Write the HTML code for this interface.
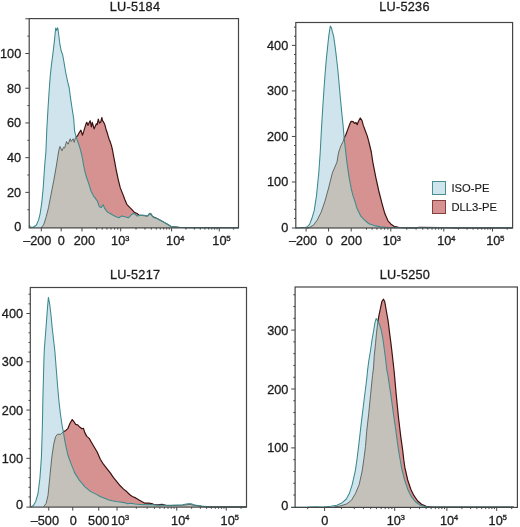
<!DOCTYPE html>
<html><head><meta charset="utf-8"><title>Flow cytometry histograms</title>
<style>
html,body{margin:0;padding:0;background:#fff;}
body{width:520px;height:527px;overflow:hidden;font-family:"Liberation Sans",sans-serif;}
svg text{font-family:"Liberation Sans",sans-serif;fill:#1c1c1c;stroke:#1c1c1c;stroke-width:0.3px;}
.t{font-size:12.7px;}
.ti{font-size:12.7px;letter-spacing:0.25px;}
.lg{font-size:11.2px;stroke-width:0.15px;}
</style></head><body>
<svg width="520" height="527" viewBox="0 0 520 527" style="display:block">
<rect width="520" height="527" fill="#fff"/>
<defs><clipPath id="cb1"><path d="M29.20,227.90 L29.20,224.96 L30.30,227.27 L33.30,227.27 L36.40,224.96 L38.60,219.90 L40.10,213.80 L41.70,203.10 L43.20,188.00 L44.70,165.20 L45.90,152.00 L46.80,129.40 L48.20,105.20 L49.20,90.00 L50.20,76.50 L51.50,64.40 L52.90,53.60 L54.20,42.90 L55.70,28.00 L56.60,30.40 L57.60,27.70 L58.10,30.00 L58.70,34.80 L59.90,44.20 L61.20,51.00 L62.70,55.00 L63.90,61.70 L65.70,72.50 L67.70,81.90 L69.20,88.00 L70.40,97.10 L72.00,107.90 L73.70,118.60 L74.60,131.20 L76.20,137.30 L78.10,142.70 L80.00,148.10 L81.50,154.20 L82.70,159.60 L83.50,165.00 L84.90,171.30 L86.50,177.30 L88.70,183.40 L91.00,191.00 L93.30,195.60 L95.60,198.60 L97.40,201.30 L99.40,206.70 L101.40,207.40 L103.20,204.70 L104.80,208.70 L107.50,212.10 L110.20,213.50 L113.60,215.50 L116.20,216.80 L118.90,217.80 L121.60,215.90 L125.00,216.80 L128.40,217.80 L131.00,215.10 L133.10,213.50 L135.10,214.10 L137.10,216.10 L139.80,215.50 L142.50,215.10 L145.20,215.50 L147.20,216.10 L149.90,213.20 L151.20,213.70 L152.60,216.40 L153.80,217.50 L156.90,218.40 L160.40,220.23 L163.80,222.10 L167.30,223.97 L170.80,226.28 L174.20,226.72 L179.40,227.38 L184.60,227.60 L238.50,227.60 L238.50,227.90 Z"/></clipPath><clipPath id="co1"><path clip-rule="evenodd" d="M0,0H520V527H0Z M29.20,227.90 L29.20,224.96 L30.30,227.27 L33.30,227.27 L36.40,224.96 L38.60,219.90 L40.10,213.80 L41.70,203.10 L43.20,188.00 L44.70,165.20 L45.90,152.00 L46.80,129.40 L48.20,105.20 L49.20,90.00 L50.20,76.50 L51.50,64.40 L52.90,53.60 L54.20,42.90 L55.70,28.00 L56.60,30.40 L57.60,27.70 L58.10,30.00 L58.70,34.80 L59.90,44.20 L61.20,51.00 L62.70,55.00 L63.90,61.70 L65.70,72.50 L67.70,81.90 L69.20,88.00 L70.40,97.10 L72.00,107.90 L73.70,118.60 L74.60,131.20 L76.20,137.30 L78.10,142.70 L80.00,148.10 L81.50,154.20 L82.70,159.60 L83.50,165.00 L84.90,171.30 L86.50,177.30 L88.70,183.40 L91.00,191.00 L93.30,195.60 L95.60,198.60 L97.40,201.30 L99.40,206.70 L101.40,207.40 L103.20,204.70 L104.80,208.70 L107.50,212.10 L110.20,213.50 L113.60,215.50 L116.20,216.80 L118.90,217.80 L121.60,215.90 L125.00,216.80 L128.40,217.80 L131.00,215.10 L133.10,213.50 L135.10,214.10 L137.10,216.10 L139.80,215.50 L142.50,215.10 L145.20,215.50 L147.20,216.10 L149.90,213.20 L151.20,213.70 L152.60,216.40 L153.80,217.50 L156.90,218.40 L160.40,220.23 L163.80,222.10 L167.30,223.97 L170.80,226.28 L174.20,226.72 L179.40,227.38 L184.60,227.60 L238.50,227.60 L238.50,227.90 Z"/></clipPath><clipPath id="cb2"><path d="M295.80,228.00 L295.80,227.85 L297.50,227.85 L304.40,227.63 L307.40,226.73 L309.70,224.16 L311.90,218.30 L314.20,210.70 L316.50,195.60 L318.80,172.80 L320.20,152.50 L321.50,128.10 L322.90,105.20 L324.10,87.50 L324.90,76.50 L326.20,60.40 L327.60,46.90 L328.90,34.80 L330.30,26.10 L331.60,28.10 L332.30,31.40 L333.60,36.20 L335.00,45.60 L336.30,56.30 L337.70,68.50 L339.00,82.50 L340.40,98.50 L341.70,111.90 L343.10,125.40 L344.10,137.50 L345.20,147.50 L346.90,162.10 L349.10,177.30 L351.40,189.50 L353.00,195.60 L354.50,200.10 L356.80,207.70 L358.50,211.50 L360.60,215.80 L363.60,219.12 L366.00,221.25 L369.00,223.82 L374.30,225.61 L380.40,226.73 L388.00,227.40 L395.60,227.74 L512.60,227.85 L512.60,228.00 Z"/></clipPath><clipPath id="co2"><path clip-rule="evenodd" d="M0,0H520V527H0Z M295.80,228.00 L295.80,227.85 L297.50,227.85 L304.40,227.63 L307.40,226.73 L309.70,224.16 L311.90,218.30 L314.20,210.70 L316.50,195.60 L318.80,172.80 L320.20,152.50 L321.50,128.10 L322.90,105.20 L324.10,87.50 L324.90,76.50 L326.20,60.40 L327.60,46.90 L328.90,34.80 L330.30,26.10 L331.60,28.10 L332.30,31.40 L333.60,36.20 L335.00,45.60 L336.30,56.30 L337.70,68.50 L339.00,82.50 L340.40,98.50 L341.70,111.90 L343.10,125.40 L344.10,137.50 L345.20,147.50 L346.90,162.10 L349.10,177.30 L351.40,189.50 L353.00,195.60 L354.50,200.10 L356.80,207.70 L358.50,211.50 L360.60,215.80 L363.60,219.12 L366.00,221.25 L369.00,223.82 L374.30,225.61 L380.40,226.73 L388.00,227.40 L395.60,227.74 L512.60,227.85 L512.60,228.00 Z"/></clipPath><clipPath id="cb3"><path d="M30.90,507.10 L30.90,507.00 L33.40,505.58 L35.70,501.40 L38.00,493.50 L39.90,478.30 L41.40,457.40 L42.30,429.00 L42.60,415.00 L42.80,402.10 L43.50,375.20 L44.00,357.00 L44.40,347.90 L45.40,335.80 L46.60,319.60 L47.50,307.50 L48.40,297.40 L49.60,303.50 L50.90,314.20 L52.20,327.70 L53.70,341.10 L54.90,351.50 L56.20,368.50 L57.60,386.00 L58.90,400.80 L60.30,412.90 L61.30,420.00 L62.20,426.00 L63.20,430.90 L65.10,442.30 L68.00,455.50 L70.80,463.10 L74.60,472.60 L79.30,480.20 L85.00,486.80 L90.70,491.60 L96.40,494.40 L100.00,496.50 L104.00,498.10 L108.10,499.75 L112.10,500.85 L116.20,501.51 L120.20,501.95 L124.20,502.61 L127.60,503.82 L131.00,503.16 L135.00,504.04 L140.40,504.48 L145.80,504.81 L151.10,504.48 L156.50,505.25 L163.30,505.25 L170.40,505.25 L182.50,504.81 L187.70,503.71 L191.10,503.71 L194.60,505.03 L201.50,506.13 L208.40,506.79 L246.50,506.90 L246.50,507.10 Z"/></clipPath><clipPath id="co3"><path clip-rule="evenodd" d="M0,0H520V527H0Z M30.90,507.10 L30.90,507.00 L33.40,505.58 L35.70,501.40 L38.00,493.50 L39.90,478.30 L41.40,457.40 L42.30,429.00 L42.60,415.00 L42.80,402.10 L43.50,375.20 L44.00,357.00 L44.40,347.90 L45.40,335.80 L46.60,319.60 L47.50,307.50 L48.40,297.40 L49.60,303.50 L50.90,314.20 L52.20,327.70 L53.70,341.10 L54.90,351.50 L56.20,368.50 L57.60,386.00 L58.90,400.80 L60.30,412.90 L61.30,420.00 L62.20,426.00 L63.20,430.90 L65.10,442.30 L68.00,455.50 L70.80,463.10 L74.60,472.60 L79.30,480.20 L85.00,486.80 L90.70,491.60 L96.40,494.40 L100.00,496.50 L104.00,498.10 L108.10,499.75 L112.10,500.85 L116.20,501.51 L120.20,501.95 L124.20,502.61 L127.60,503.82 L131.00,503.16 L135.00,504.04 L140.40,504.48 L145.80,504.81 L151.10,504.48 L156.50,505.25 L163.30,505.25 L170.40,505.25 L182.50,504.81 L187.70,503.71 L191.10,503.71 L194.60,505.03 L201.50,506.13 L208.40,506.79 L246.50,506.90 L246.50,507.10 Z"/></clipPath><clipPath id="cb4"><path d="M291.00,507.40 L291.00,507.25 L295.00,507.15 L300.00,507.15 L307.70,507.04 L315.40,506.71 L323.10,506.93 L330.80,506.28 L336.90,505.18 L342.20,502.67 L346.10,499.27 L349.20,493.80 L352.20,484.60 L355.30,470.80 L356.90,460.00 L358.80,444.60 L361.00,425.40 L363.80,402.30 L366.70,379.20 L367.60,370.00 L368.80,360.80 L370.40,351.50 L371.90,340.80 L373.50,331.50 L375.00,322.30 L376.20,318.50 L377.60,320.80 L379.60,324.60 L381.20,330.00 L382.70,337.70 L384.20,348.50 L385.50,358.50 L386.80,370.00 L387.90,375.40 L390.80,394.60 L393.70,415.80 L396.20,433.10 L397.20,441.00 L398.50,450.00 L400.20,460.00 L401.50,467.70 L404.60,480.00 L407.70,489.20 L411.50,496.90 L415.40,501.79 L420.00,505.18 L426.20,506.71 L435.00,507.04 L513.75,507.04 L513.75,507.40 Z"/></clipPath><clipPath id="co4"><path clip-rule="evenodd" d="M0,0H520V527H0Z M291.00,507.40 L291.00,507.25 L295.00,507.15 L300.00,507.15 L307.70,507.04 L315.40,506.71 L323.10,506.93 L330.80,506.28 L336.90,505.18 L342.20,502.67 L346.10,499.27 L349.20,493.80 L352.20,484.60 L355.30,470.80 L356.90,460.00 L358.80,444.60 L361.00,425.40 L363.80,402.30 L366.70,379.20 L367.60,370.00 L368.80,360.80 L370.40,351.50 L371.90,340.80 L373.50,331.50 L375.00,322.30 L376.20,318.50 L377.60,320.80 L379.60,324.60 L381.20,330.00 L382.70,337.70 L384.20,348.50 L385.50,358.50 L386.80,370.00 L387.90,375.40 L390.80,394.60 L393.70,415.80 L396.20,433.10 L397.20,441.00 L398.50,450.00 L400.20,460.00 L401.50,467.70 L404.60,480.00 L407.70,489.20 L411.50,496.90 L415.40,501.79 L420.00,505.18 L426.20,506.71 L435.00,507.04 L513.75,507.04 L513.75,507.40 Z"/></clipPath></defs>
<g><path d="M40.90,227.90 L40.90,227.60 L42.40,226.61 L43.90,224.08 L46.20,216.80 L48.50,207.70 L50.80,195.60 L53.80,180.40 L56.50,165.00 L57.70,157.30 L58.80,150.40 L60.00,146.50 L61.90,150.80 L63.50,147.30 L64.60,148.10 L66.50,141.50 L68.10,144.20 L70.20,138.80 L71.20,141.50 L73.10,138.80 L74.20,142.30 L75.40,137.70 L76.50,136.50 L77.40,136.00 L79.00,133.00 L80.90,130.20 L82.40,135.20 L83.70,131.40 L86.00,123.80 L86.80,122.30 L87.90,125.40 L89.50,121.90 L90.20,120.80 L91.40,126.90 L92.30,122.30 L94.10,128.80 L95.60,125.40 L96.40,123.80 L97.20,124.60 L98.30,119.20 L99.50,123.10 L100.60,122.30 L101.90,117.50 L102.50,120.80 L103.30,121.50 L104.80,124.60 L106.00,129.20 L107.50,133.80 L109.10,139.20 L109.80,140.80 L111.40,145.40 L112.50,150.00 L113.60,156.10 L114.90,162.90 L116.20,170.00 L118.30,179.80 L120.30,187.90 L123.00,194.60 L125.00,200.00 L127.00,204.70 L129.70,207.40 L132.40,210.10 L134.40,212.40 L137.10,213.50 L139.10,215.10 L142.50,215.50 L145.20,215.90 L147.20,216.40 L149.90,214.00 L152.60,216.60 L156.90,218.60 L163.80,222.32 L170.80,226.50 L179.40,227.49 L238.50,227.60 L238.50,227.90 Z" fill="#d69290"/><path d="M29.20,227.90 L29.20,224.96 L30.30,227.27 L33.30,227.27 L36.40,224.96 L38.60,219.90 L40.10,213.80 L41.70,203.10 L43.20,188.00 L44.70,165.20 L45.90,152.00 L46.80,129.40 L48.20,105.20 L49.20,90.00 L50.20,76.50 L51.50,64.40 L52.90,53.60 L54.20,42.90 L55.70,28.00 L56.60,30.40 L57.60,27.70 L58.10,30.00 L58.70,34.80 L59.90,44.20 L61.20,51.00 L62.70,55.00 L63.90,61.70 L65.70,72.50 L67.70,81.90 L69.20,88.00 L70.40,97.10 L72.00,107.90 L73.70,118.60 L74.60,131.20 L76.20,137.30 L78.10,142.70 L80.00,148.10 L81.50,154.20 L82.70,159.60 L83.50,165.00 L84.90,171.30 L86.50,177.30 L88.70,183.40 L91.00,191.00 L93.30,195.60 L95.60,198.60 L97.40,201.30 L99.40,206.70 L101.40,207.40 L103.20,204.70 L104.80,208.70 L107.50,212.10 L110.20,213.50 L113.60,215.50 L116.20,216.80 L118.90,217.80 L121.60,215.90 L125.00,216.80 L128.40,217.80 L131.00,215.10 L133.10,213.50 L135.10,214.10 L137.10,216.10 L139.80,215.50 L142.50,215.10 L145.20,215.50 L147.20,216.10 L149.90,213.20 L151.20,213.70 L152.60,216.40 L153.80,217.50 L156.90,218.40 L160.40,220.23 L163.80,222.10 L167.30,223.97 L170.80,226.28 L174.20,226.72 L179.40,227.38 L184.60,227.60 L238.50,227.60 L238.50,227.90 Z" fill="#cfe4ec"/><g clip-path="url(#cb1)"><path d="M40.90,227.90 L40.90,227.60 L42.40,226.61 L43.90,224.08 L46.20,216.80 L48.50,207.70 L50.80,195.60 L53.80,180.40 L56.50,165.00 L57.70,157.30 L58.80,150.40 L60.00,146.50 L61.90,150.80 L63.50,147.30 L64.60,148.10 L66.50,141.50 L68.10,144.20 L70.20,138.80 L71.20,141.50 L73.10,138.80 L74.20,142.30 L75.40,137.70 L76.50,136.50 L77.40,136.00 L79.00,133.00 L80.90,130.20 L82.40,135.20 L83.70,131.40 L86.00,123.80 L86.80,122.30 L87.90,125.40 L89.50,121.90 L90.20,120.80 L91.40,126.90 L92.30,122.30 L94.10,128.80 L95.60,125.40 L96.40,123.80 L97.20,124.60 L98.30,119.20 L99.50,123.10 L100.60,122.30 L101.90,117.50 L102.50,120.80 L103.30,121.50 L104.80,124.60 L106.00,129.20 L107.50,133.80 L109.10,139.20 L109.80,140.80 L111.40,145.40 L112.50,150.00 L113.60,156.10 L114.90,162.90 L116.20,170.00 L118.30,179.80 L120.30,187.90 L123.00,194.60 L125.00,200.00 L127.00,204.70 L129.70,207.40 L132.40,210.10 L134.40,212.40 L137.10,213.50 L139.10,215.10 L142.50,215.50 L145.20,215.90 L147.20,216.40 L149.90,214.00 L152.60,216.60 L156.90,218.60 L163.80,222.32 L170.80,226.50 L179.40,227.49 L238.50,227.60 L238.50,227.90 Z" fill="#c4c1ba"/><path d="M40.90,227.60 L42.40,226.61 L43.90,224.08 L46.20,216.80 L48.50,207.70 L50.80,195.60 L53.80,180.40 L56.50,165.00 L57.70,157.30 L58.80,150.40 L60.00,146.50 L61.90,150.80 L63.50,147.30 L64.60,148.10 L66.50,141.50 L68.10,144.20 L70.20,138.80 L71.20,141.50 L73.10,138.80 L74.20,142.30 L75.40,137.70 L76.50,136.50 L77.40,136.00 L79.00,133.00 L80.90,130.20 L82.40,135.20 L83.70,131.40 L86.00,123.80 L86.80,122.30 L87.90,125.40 L89.50,121.90 L90.20,120.80 L91.40,126.90 L92.30,122.30 L94.10,128.80 L95.60,125.40 L96.40,123.80 L97.20,124.60 L98.30,119.20 L99.50,123.10 L100.60,122.30 L101.90,117.50 L102.50,120.80 L103.30,121.50 L104.80,124.60 L106.00,129.20 L107.50,133.80 L109.10,139.20 L109.80,140.80 L111.40,145.40 L112.50,150.00 L113.60,156.10 L114.90,162.90 L116.20,170.00 L118.30,179.80 L120.30,187.90 L123.00,194.60 L125.00,200.00 L127.00,204.70 L129.70,207.40 L132.40,210.10 L134.40,212.40 L137.10,213.50 L139.10,215.10 L142.50,215.50 L145.20,215.90 L147.20,216.40 L149.90,214.00 L152.60,216.60 L156.90,218.60 L163.80,222.32 L170.80,226.50 L179.40,227.49 L238.50,227.60" fill="none" stroke="#575d59" stroke-width="0.9" stroke-linejoin="round"/></g><g clip-path="url(#co1)"><path d="M40.90,227.60 L42.40,226.61 L43.90,224.08 L46.20,216.80 L48.50,207.70 L50.80,195.60 L53.80,180.40 L56.50,165.00 L57.70,157.30 L58.80,150.40 L60.00,146.50 L61.90,150.80 L63.50,147.30 L64.60,148.10 L66.50,141.50 L68.10,144.20 L70.20,138.80 L71.20,141.50 L73.10,138.80 L74.20,142.30 L75.40,137.70 L76.50,136.50 L77.40,136.00 L79.00,133.00 L80.90,130.20 L82.40,135.20 L83.70,131.40 L86.00,123.80 L86.80,122.30 L87.90,125.40 L89.50,121.90 L90.20,120.80 L91.40,126.90 L92.30,122.30 L94.10,128.80 L95.60,125.40 L96.40,123.80 L97.20,124.60 L98.30,119.20 L99.50,123.10 L100.60,122.30 L101.90,117.50 L102.50,120.80 L103.30,121.50 L104.80,124.60 L106.00,129.20 L107.50,133.80 L109.10,139.20 L109.80,140.80 L111.40,145.40 L112.50,150.00 L113.60,156.10 L114.90,162.90 L116.20,170.00 L118.30,179.80 L120.30,187.90 L123.00,194.60 L125.00,200.00 L127.00,204.70 L129.70,207.40 L132.40,210.10 L134.40,212.40 L137.10,213.50 L139.10,215.10 L142.50,215.50 L145.20,215.90 L147.20,216.40 L149.90,214.00 L152.60,216.60 L156.90,218.60 L163.80,222.32 L170.80,226.50 L179.40,227.49 L238.50,227.60" fill="none" stroke="#3c1212" stroke-width="1.2" stroke-linejoin="round"/></g><path d="M29.20,224.96 L30.30,227.27 L33.30,227.27 L36.40,224.96 L38.60,219.90 L40.10,213.80 L41.70,203.10 L43.20,188.00 L44.70,165.20 L45.90,152.00 L46.80,129.40 L48.20,105.20 L49.20,90.00 L50.20,76.50 L51.50,64.40 L52.90,53.60 L54.20,42.90 L55.70,28.00 L56.60,30.40 L57.60,27.70 L58.10,30.00 L58.70,34.80 L59.90,44.20 L61.20,51.00 L62.70,55.00 L63.90,61.70 L65.70,72.50 L67.70,81.90 L69.20,88.00 L70.40,97.10 L72.00,107.90 L73.70,118.60 L74.60,131.20 L76.20,137.30 L78.10,142.70 L80.00,148.10 L81.50,154.20 L82.70,159.60 L83.50,165.00 L84.90,171.30 L86.50,177.30 L88.70,183.40 L91.00,191.00 L93.30,195.60 L95.60,198.60 L97.40,201.30 L99.40,206.70 L101.40,207.40 L103.20,204.70 L104.80,208.70 L107.50,212.10 L110.20,213.50 L113.60,215.50 L116.20,216.80 L118.90,217.80 L121.60,215.90 L125.00,216.80 L128.40,217.80 L131.00,215.10 L133.10,213.50 L135.10,214.10 L137.10,216.10 L139.80,215.50 L142.50,215.10 L145.20,215.50 L147.20,216.10 L149.90,213.20 L151.20,213.70 L152.60,216.40 L153.80,217.50 L156.90,218.40 L160.40,220.23 L163.80,222.10 L167.30,223.97 L170.80,226.28 L174.20,226.72 L179.40,227.38 L184.60,227.60 L238.50,227.60" fill="none" stroke="#3a898c" stroke-width="1.05" stroke-linejoin="round"/></g>
<rect x="29.20" y="18.60" width="209.30" height="209.30" fill="none" stroke="#454545" stroke-width="1.2"/>
<path d="M29.20,209.74 h-1.8 M29.20,192.38 h-3.9 M29.20,175.02 h-1.8 M29.20,157.66 h-3.9 M29.20,140.30 h-1.8 M29.20,122.94 h-3.9 M29.20,105.58 h-1.8 M29.20,88.22 h-3.9 M29.20,70.86 h-1.8 M29.20,53.50 h-3.9 M29.20,36.14 h-1.8 M29.20,18.78 h-3.9 M41.30,227.90 v3.5 M61.20,227.90 v3.5 M82.00,227.90 v3.5 M120.70,227.90 v3.5 M171.60,227.90 v3.5 M219.25,227.90 v3.5 M96.68,227.90 v1.7 M102.21,227.90 v1.7 M106.92,227.90 v1.7 M111.00,227.90 v1.7 M114.60,227.90 v1.7 M117.81,227.90 v1.7 M136.02,227.90 v1.7 M144.99,227.90 v1.7 M151.34,227.90 v1.7 M156.28,227.90 v1.7 M160.31,227.90 v1.7 M163.72,227.90 v1.7 M166.67,227.90 v1.7 M169.27,227.90 v1.7 M185.94,227.90 v1.7 M194.33,227.90 v1.7 M200.29,227.90 v1.7 M204.91,227.90 v1.7 M208.68,227.90 v1.7 M211.87,227.90 v1.7 M214.63,227.90 v1.7 M217.07,227.90 v1.7 M233.59,227.90 v1.7" stroke="#454545" stroke-width="1" fill="none"/>
<text x="21.20" y="231.20" text-anchor="end" class="t">0</text>
<text x="21.20" y="196.88" text-anchor="end" class="t">20</text>
<text x="21.20" y="162.16" text-anchor="end" class="t">40</text>
<text x="21.20" y="127.44" text-anchor="end" class="t">60</text>
<text x="21.20" y="92.72" text-anchor="end" class="t">80</text>
<text x="21.20" y="58.00" text-anchor="end" class="t">100</text>
<text x="37.25" y="244.70" text-anchor="middle" class="t">–200</text>
<text x="61.30" y="244.70" text-anchor="middle" class="t">0</text>
<text x="84.40" y="244.70" text-anchor="middle" class="t">200</text>
<text x="111.10" y="244.70" class="t">10<tspan dy="-4.1" dx="-0.35" font-size="8.0">3</tspan></text>
<text x="166.10" y="244.70" class="t">10<tspan dy="-4.1" dx="-0.35" font-size="8.0">4</tspan></text>
<text x="212.35" y="244.70" class="t">10<tspan dy="-4.1" dx="-0.35" font-size="8.0">5</tspan></text>
<text x="135.00" y="10.70" text-anchor="middle" class="ti">LU-5184</text>
<g><path d="M306.60,228.00 L306.60,227.85 L309.70,227.29 L313.50,225.05 L317.30,219.91 L321.10,212.30 L324.80,201.60 L328.60,188.00 L332.40,172.80 L337.00,162.10 L338.10,155.00 L339.00,151.00 L341.00,145.60 L343.10,141.50 L344.10,138.20 L345.80,134.80 L347.80,129.40 L349.80,124.00 L351.10,121.30 L353.20,121.60 L354.50,123.40 L355.90,122.40 L357.20,124.70 L358.50,121.30 L360.30,118.00 L361.90,120.30 L363.30,125.40 L365.30,130.80 L367.30,136.10 L368.60,140.90 L370.00,146.50 L371.30,152.00 L372.80,162.10 L375.80,177.30 L378.80,191.00 L381.90,203.10 L384.90,213.80 L388.00,220.80 L391.00,224.16 L394.00,226.28 L398.60,227.29 L404.70,227.63 L413.80,227.85 L420.00,227.40 L440.00,227.51 L455.00,227.85 L512.60,227.85 L512.60,228.00 Z" fill="#d69290"/><path d="M295.80,228.00 L295.80,227.85 L297.50,227.85 L304.40,227.63 L307.40,226.73 L309.70,224.16 L311.90,218.30 L314.20,210.70 L316.50,195.60 L318.80,172.80 L320.20,152.50 L321.50,128.10 L322.90,105.20 L324.10,87.50 L324.90,76.50 L326.20,60.40 L327.60,46.90 L328.90,34.80 L330.30,26.10 L331.60,28.10 L332.30,31.40 L333.60,36.20 L335.00,45.60 L336.30,56.30 L337.70,68.50 L339.00,82.50 L340.40,98.50 L341.70,111.90 L343.10,125.40 L344.10,137.50 L345.20,147.50 L346.90,162.10 L349.10,177.30 L351.40,189.50 L353.00,195.60 L354.50,200.10 L356.80,207.70 L358.50,211.50 L360.60,215.80 L363.60,219.12 L366.00,221.25 L369.00,223.82 L374.30,225.61 L380.40,226.73 L388.00,227.40 L395.60,227.74 L512.60,227.85 L512.60,228.00 Z" fill="#cfe4ec"/><g clip-path="url(#cb2)"><path d="M306.60,228.00 L306.60,227.85 L309.70,227.29 L313.50,225.05 L317.30,219.91 L321.10,212.30 L324.80,201.60 L328.60,188.00 L332.40,172.80 L337.00,162.10 L338.10,155.00 L339.00,151.00 L341.00,145.60 L343.10,141.50 L344.10,138.20 L345.80,134.80 L347.80,129.40 L349.80,124.00 L351.10,121.30 L353.20,121.60 L354.50,123.40 L355.90,122.40 L357.20,124.70 L358.50,121.30 L360.30,118.00 L361.90,120.30 L363.30,125.40 L365.30,130.80 L367.30,136.10 L368.60,140.90 L370.00,146.50 L371.30,152.00 L372.80,162.10 L375.80,177.30 L378.80,191.00 L381.90,203.10 L384.90,213.80 L388.00,220.80 L391.00,224.16 L394.00,226.28 L398.60,227.29 L404.70,227.63 L413.80,227.85 L420.00,227.40 L440.00,227.51 L455.00,227.85 L512.60,227.85 L512.60,228.00 Z" fill="#c4c1ba"/><path d="M306.60,227.85 L309.70,227.29 L313.50,225.05 L317.30,219.91 L321.10,212.30 L324.80,201.60 L328.60,188.00 L332.40,172.80 L337.00,162.10 L338.10,155.00 L339.00,151.00 L341.00,145.60 L343.10,141.50 L344.10,138.20 L345.80,134.80 L347.80,129.40 L349.80,124.00 L351.10,121.30 L353.20,121.60 L354.50,123.40 L355.90,122.40 L357.20,124.70 L358.50,121.30 L360.30,118.00 L361.90,120.30 L363.30,125.40 L365.30,130.80 L367.30,136.10 L368.60,140.90 L370.00,146.50 L371.30,152.00 L372.80,162.10 L375.80,177.30 L378.80,191.00 L381.90,203.10 L384.90,213.80 L388.00,220.80 L391.00,224.16 L394.00,226.28 L398.60,227.29 L404.70,227.63 L413.80,227.85 L420.00,227.40 L440.00,227.51 L455.00,227.85 L512.60,227.85" fill="none" stroke="#575d59" stroke-width="0.9" stroke-linejoin="round"/></g><g clip-path="url(#co2)"><path d="M306.60,227.85 L309.70,227.29 L313.50,225.05 L317.30,219.91 L321.10,212.30 L324.80,201.60 L328.60,188.00 L332.40,172.80 L337.00,162.10 L338.10,155.00 L339.00,151.00 L341.00,145.60 L343.10,141.50 L344.10,138.20 L345.80,134.80 L347.80,129.40 L349.80,124.00 L351.10,121.30 L353.20,121.60 L354.50,123.40 L355.90,122.40 L357.20,124.70 L358.50,121.30 L360.30,118.00 L361.90,120.30 L363.30,125.40 L365.30,130.80 L367.30,136.10 L368.60,140.90 L370.00,146.50 L371.30,152.00 L372.80,162.10 L375.80,177.30 L378.80,191.00 L381.90,203.10 L384.90,213.80 L388.00,220.80 L391.00,224.16 L394.00,226.28 L398.60,227.29 L404.70,227.63 L413.80,227.85 L420.00,227.40 L440.00,227.51 L455.00,227.85 L512.60,227.85" fill="none" stroke="#3c1212" stroke-width="1.2" stroke-linejoin="round"/></g><path d="M295.80,227.85 L297.50,227.85 L304.40,227.63 L307.40,226.73 L309.70,224.16 L311.90,218.30 L314.20,210.70 L316.50,195.60 L318.80,172.80 L320.20,152.50 L321.50,128.10 L322.90,105.20 L324.10,87.50 L324.90,76.50 L326.20,60.40 L327.60,46.90 L328.90,34.80 L330.30,26.10 L331.60,28.10 L332.30,31.40 L333.60,36.20 L335.00,45.60 L336.30,56.30 L337.70,68.50 L339.00,82.50 L340.40,98.50 L341.70,111.90 L343.10,125.40 L344.10,137.50 L345.20,147.50 L346.90,162.10 L349.10,177.30 L351.40,189.50 L353.00,195.60 L354.50,200.10 L356.80,207.70 L358.50,211.50 L360.60,215.80 L363.60,219.12 L366.00,221.25 L369.00,223.82 L374.30,225.61 L380.40,226.73 L388.00,227.40 L395.60,227.74 L512.60,227.85" fill="none" stroke="#3a898c" stroke-width="1.05" stroke-linejoin="round"/></g>
<rect x="295.80" y="22.50" width="216.80" height="205.50" fill="none" stroke="#454545" stroke-width="1.2"/>
<path d="M295.80,228.00 h-3.9 M295.80,218.39 h-1.8 M295.80,209.29 h-1.8 M295.80,200.18 h-1.8 M295.80,191.08 h-1.8 M295.80,181.97 h-3.9 M295.80,172.86 h-1.8 M295.80,163.76 h-1.8 M295.80,154.65 h-1.8 M295.80,145.55 h-1.8 M295.80,136.44 h-3.9 M295.80,127.33 h-1.8 M295.80,118.23 h-1.8 M295.80,109.12 h-1.8 M295.80,100.02 h-1.8 M295.80,90.91 h-3.9 M295.80,81.80 h-1.8 M295.80,72.70 h-1.8 M295.80,63.59 h-1.8 M295.80,54.49 h-1.8 M295.80,45.38 h-3.9 M295.80,36.27 h-1.8 M295.80,27.17 h-1.8 M306.10,228.00 v3.5 M328.60,228.00 v3.5 M351.20,228.00 v3.5 M390.80,228.00 v3.5 M443.80,228.00 v3.5 M492.50,228.00 v3.5 M366.49,228.00 v1.7 M372.13,228.00 v1.7 M376.91,228.00 v1.7 M381.04,228.00 v1.7 M384.66,228.00 v1.7 M387.89,228.00 v1.7 M406.75,228.00 v1.7 M416.09,228.00 v1.7 M422.71,228.00 v1.7 M427.85,228.00 v1.7 M432.04,228.00 v1.7 M435.59,228.00 v1.7 M438.66,228.00 v1.7 M441.37,228.00 v1.7 M458.46,228.00 v1.7 M467.04,228.00 v1.7 M473.12,228.00 v1.7 M477.84,228.00 v1.7 M481.70,228.00 v1.7 M484.96,228.00 v1.7 M487.78,228.00 v1.7 M490.27,228.00 v1.7 M507.16,228.00 v1.7" stroke="#454545" stroke-width="1" fill="none"/>
<text x="288.20" y="231.60" text-anchor="end" class="t">0</text>
<text x="288.20" y="186.47" text-anchor="end" class="t">100</text>
<text x="288.20" y="140.94" text-anchor="end" class="t">200</text>
<text x="288.20" y="95.41" text-anchor="end" class="t">300</text>
<text x="288.20" y="49.88" text-anchor="end" class="t">400</text>
<text x="303.05" y="244.70" text-anchor="middle" class="t">–200</text>
<text x="329.35" y="244.70" text-anchor="middle" class="t">0</text>
<text x="351.40" y="244.70" text-anchor="middle" class="t">200</text>
<text x="382.70" y="244.70" class="t">10<tspan dy="-4.1" dx="-0.35" font-size="8.0">3</tspan></text>
<text x="437.30" y="244.70" class="t">10<tspan dy="-4.1" dx="-0.35" font-size="8.0">4</tspan></text>
<text x="486.30" y="244.70" class="t">10<tspan dy="-4.1" dx="-0.35" font-size="8.0">5</tspan></text>
<text x="404.50" y="10.70" text-anchor="middle" class="ti">LU-5236</text>
<g><path d="M43.70,507.10 L43.70,506.57 L46.10,503.49 L48.00,495.40 L49.90,476.40 L51.80,457.40 L53.70,444.20 L55.60,436.60 L57.50,434.30 L60.40,434.30 L62.30,432.80 L63.20,431.60 L65.60,430.70 L68.00,428.30 L69.90,423.50 L72.20,419.60 L73.80,421.50 L75.70,424.40 L77.60,424.90 L80.00,427.30 L82.00,428.80 L83.40,428.30 L84.80,432.60 L86.80,436.40 L89.20,438.40 L91.10,441.70 L94.50,447.50 L97.30,452.30 L100.30,459.20 L103.40,464.20 L106.70,468.30 L110.10,472.60 L113.50,477.70 L116.80,481.70 L120.20,485.80 L123.60,489.10 L126.90,491.80 L129.60,494.50 L132.30,496.50 L135.70,497.90 L139.00,500.08 L141.70,501.51 L144.40,503.05 L148.50,503.05 L151.80,503.49 L153.80,504.48 L157.90,504.92 L161.90,504.26 L165.90,505.25 L170.00,505.58 L182.50,505.25 L190.00,504.37 L194.60,505.47 L201.50,506.35 L208.40,506.90 L246.50,506.90 L246.50,507.10 Z" fill="#d69290"/><path d="M30.90,507.10 L30.90,507.00 L33.40,505.58 L35.70,501.40 L38.00,493.50 L39.90,478.30 L41.40,457.40 L42.30,429.00 L42.60,415.00 L42.80,402.10 L43.50,375.20 L44.00,357.00 L44.40,347.90 L45.40,335.80 L46.60,319.60 L47.50,307.50 L48.40,297.40 L49.60,303.50 L50.90,314.20 L52.20,327.70 L53.70,341.10 L54.90,351.50 L56.20,368.50 L57.60,386.00 L58.90,400.80 L60.30,412.90 L61.30,420.00 L62.20,426.00 L63.20,430.90 L65.10,442.30 L68.00,455.50 L70.80,463.10 L74.60,472.60 L79.30,480.20 L85.00,486.80 L90.70,491.60 L96.40,494.40 L100.00,496.50 L104.00,498.10 L108.10,499.75 L112.10,500.85 L116.20,501.51 L120.20,501.95 L124.20,502.61 L127.60,503.82 L131.00,503.16 L135.00,504.04 L140.40,504.48 L145.80,504.81 L151.10,504.48 L156.50,505.25 L163.30,505.25 L170.40,505.25 L182.50,504.81 L187.70,503.71 L191.10,503.71 L194.60,505.03 L201.50,506.13 L208.40,506.79 L246.50,506.90 L246.50,507.10 Z" fill="#cfe4ec"/><g clip-path="url(#cb3)"><path d="M43.70,507.10 L43.70,506.57 L46.10,503.49 L48.00,495.40 L49.90,476.40 L51.80,457.40 L53.70,444.20 L55.60,436.60 L57.50,434.30 L60.40,434.30 L62.30,432.80 L63.20,431.60 L65.60,430.70 L68.00,428.30 L69.90,423.50 L72.20,419.60 L73.80,421.50 L75.70,424.40 L77.60,424.90 L80.00,427.30 L82.00,428.80 L83.40,428.30 L84.80,432.60 L86.80,436.40 L89.20,438.40 L91.10,441.70 L94.50,447.50 L97.30,452.30 L100.30,459.20 L103.40,464.20 L106.70,468.30 L110.10,472.60 L113.50,477.70 L116.80,481.70 L120.20,485.80 L123.60,489.10 L126.90,491.80 L129.60,494.50 L132.30,496.50 L135.70,497.90 L139.00,500.08 L141.70,501.51 L144.40,503.05 L148.50,503.05 L151.80,503.49 L153.80,504.48 L157.90,504.92 L161.90,504.26 L165.90,505.25 L170.00,505.58 L182.50,505.25 L190.00,504.37 L194.60,505.47 L201.50,506.35 L208.40,506.90 L246.50,506.90 L246.50,507.10 Z" fill="#c4c1ba"/><path d="M43.70,506.57 L46.10,503.49 L48.00,495.40 L49.90,476.40 L51.80,457.40 L53.70,444.20 L55.60,436.60 L57.50,434.30 L60.40,434.30 L62.30,432.80 L63.20,431.60 L65.60,430.70 L68.00,428.30 L69.90,423.50 L72.20,419.60 L73.80,421.50 L75.70,424.40 L77.60,424.90 L80.00,427.30 L82.00,428.80 L83.40,428.30 L84.80,432.60 L86.80,436.40 L89.20,438.40 L91.10,441.70 L94.50,447.50 L97.30,452.30 L100.30,459.20 L103.40,464.20 L106.70,468.30 L110.10,472.60 L113.50,477.70 L116.80,481.70 L120.20,485.80 L123.60,489.10 L126.90,491.80 L129.60,494.50 L132.30,496.50 L135.70,497.90 L139.00,500.08 L141.70,501.51 L144.40,503.05 L148.50,503.05 L151.80,503.49 L153.80,504.48 L157.90,504.92 L161.90,504.26 L165.90,505.25 L170.00,505.58 L182.50,505.25 L190.00,504.37 L194.60,505.47 L201.50,506.35 L208.40,506.90 L246.50,506.90" fill="none" stroke="#575d59" stroke-width="0.9" stroke-linejoin="round"/></g><g clip-path="url(#co3)"><path d="M43.70,506.57 L46.10,503.49 L48.00,495.40 L49.90,476.40 L51.80,457.40 L53.70,444.20 L55.60,436.60 L57.50,434.30 L60.40,434.30 L62.30,432.80 L63.20,431.60 L65.60,430.70 L68.00,428.30 L69.90,423.50 L72.20,419.60 L73.80,421.50 L75.70,424.40 L77.60,424.90 L80.00,427.30 L82.00,428.80 L83.40,428.30 L84.80,432.60 L86.80,436.40 L89.20,438.40 L91.10,441.70 L94.50,447.50 L97.30,452.30 L100.30,459.20 L103.40,464.20 L106.70,468.30 L110.10,472.60 L113.50,477.70 L116.80,481.70 L120.20,485.80 L123.60,489.10 L126.90,491.80 L129.60,494.50 L132.30,496.50 L135.70,497.90 L139.00,500.08 L141.70,501.51 L144.40,503.05 L148.50,503.05 L151.80,503.49 L153.80,504.48 L157.90,504.92 L161.90,504.26 L165.90,505.25 L170.00,505.58 L182.50,505.25 L190.00,504.37 L194.60,505.47 L201.50,506.35 L208.40,506.90 L246.50,506.90" fill="none" stroke="#3c1212" stroke-width="1.2" stroke-linejoin="round"/></g><path d="M30.90,507.00 L33.40,505.58 L35.70,501.40 L38.00,493.50 L39.90,478.30 L41.40,457.40 L42.30,429.00 L42.60,415.00 L42.80,402.10 L43.50,375.20 L44.00,357.00 L44.40,347.90 L45.40,335.80 L46.60,319.60 L47.50,307.50 L48.40,297.40 L49.60,303.50 L50.90,314.20 L52.20,327.70 L53.70,341.10 L54.90,351.50 L56.20,368.50 L57.60,386.00 L58.90,400.80 L60.30,412.90 L61.30,420.00 L62.20,426.00 L63.20,430.90 L65.10,442.30 L68.00,455.50 L70.80,463.10 L74.60,472.60 L79.30,480.20 L85.00,486.80 L90.70,491.60 L96.40,494.40 L100.00,496.50 L104.00,498.10 L108.10,499.75 L112.10,500.85 L116.20,501.51 L120.20,501.95 L124.20,502.61 L127.60,503.82 L131.00,503.16 L135.00,504.04 L140.40,504.48 L145.80,504.81 L151.10,504.48 L156.50,505.25 L163.30,505.25 L170.40,505.25 L182.50,504.81 L187.70,503.71 L191.10,503.71 L194.60,505.03 L201.50,506.13 L208.40,506.79 L246.50,506.90" fill="none" stroke="#3a898c" stroke-width="1.05" stroke-linejoin="round"/></g>
<rect x="30.30" y="287.50" width="216.20" height="219.60" fill="none" stroke="#454545" stroke-width="1.2"/>
<path d="M30.30,507.10 h-3.9 M30.30,496.95 h-1.8 M30.30,487.29 h-1.8 M30.30,477.64 h-1.8 M30.30,467.98 h-1.8 M30.30,458.33 h-3.9 M30.30,448.68 h-1.8 M30.30,439.02 h-1.8 M30.30,429.37 h-1.8 M30.30,419.71 h-1.8 M30.30,410.06 h-3.9 M30.30,400.41 h-1.8 M30.30,390.75 h-1.8 M30.30,381.10 h-1.8 M30.30,371.44 h-1.8 M30.30,361.79 h-3.9 M30.30,352.14 h-1.8 M30.30,342.48 h-1.8 M30.30,332.83 h-1.8 M30.30,323.17 h-1.8 M30.30,313.52 h-3.9 M30.30,303.87 h-1.8 M30.30,294.21 h-1.8 M48.75,507.10 v3.5 M72.75,507.10 v3.5 M98.75,507.10 v3.5 M117.00,507.10 v3.5 M176.75,507.10 v3.5 M226.25,507.10 v3.5 M136.30,507.10 v1.7 M147.10,507.10 v1.7 M154.50,507.10 v1.7 M159.90,507.10 v1.7 M164.30,507.10 v1.7 M168.00,507.10 v1.7 M171.20,507.10 v1.7 M174.10,507.10 v1.7 M191.65,507.10 v1.7 M200.37,507.10 v1.7 M206.55,507.10 v1.7 M211.35,507.10 v1.7 M215.27,507.10 v1.7 M218.58,507.10 v1.7 M221.45,507.10 v1.7 M223.99,507.10 v1.7 M241.10,507.10 v1.7" stroke="#454545" stroke-width="1" fill="none"/>
<text x="23.00" y="508.80" text-anchor="end" class="t">0</text>
<text x="23.00" y="462.83" text-anchor="end" class="t">100</text>
<text x="23.00" y="414.56" text-anchor="end" class="t">200</text>
<text x="23.00" y="366.29" text-anchor="end" class="t">300</text>
<text x="23.00" y="318.02" text-anchor="end" class="t">400</text>
<text x="44.85" y="524.50" text-anchor="middle" class="t">–500</text>
<text x="73.40" y="524.50" text-anchor="middle" class="t">0</text>
<text x="98.70" y="524.50" text-anchor="middle" class="t">500</text>
<text x="111.00" y="524.50" class="t">10<tspan dy="-4.1" dx="-0.35" font-size="8.0">3</tspan></text>
<text x="171.10" y="524.50" class="t">10<tspan dy="-4.1" dx="-0.35" font-size="8.0">4</tspan></text>
<text x="220.60" y="524.50" class="t">10<tspan dy="-4.1" dx="-0.35" font-size="8.0">5</tspan></text>
<text x="135.10" y="279.30" text-anchor="middle" class="ti">LU-5217</text>
<g><path d="M333.80,507.40 L333.80,506.93 L340.00,506.06 L346.90,503.87 L351.50,500.15 L355.30,493.80 L359.20,484.60 L362.20,470.80 L364.10,457.50 L365.50,446.50 L366.70,431.20 L368.70,413.80 L370.60,394.60 L372.50,375.40 L373.50,368.00 L374.20,356.20 L375.50,343.80 L376.50,333.10 L377.80,322.30 L378.80,316.20 L380.40,308.50 L381.90,301.50 L383.50,299.20 L384.70,301.50 L386.20,310.00 L388.10,320.80 L389.60,333.10 L391.20,345.40 L392.70,358.50 L394.20,372.00 L396.20,394.60 L398.50,417.70 L400.80,436.90 L402.70,450.40 L403.80,460.00 L404.90,467.70 L407.70,480.00 L410.80,489.20 L413.80,495.40 L417.70,501.03 L421.50,504.31 L426.20,506.38 L432.30,507.04 L513.75,507.15 L513.75,507.40 Z" fill="#d69290"/><path d="M291.00,507.40 L291.00,507.25 L295.00,507.15 L300.00,507.15 L307.70,507.04 L315.40,506.71 L323.10,506.93 L330.80,506.28 L336.90,505.18 L342.20,502.67 L346.10,499.27 L349.20,493.80 L352.20,484.60 L355.30,470.80 L356.90,460.00 L358.80,444.60 L361.00,425.40 L363.80,402.30 L366.70,379.20 L367.60,370.00 L368.80,360.80 L370.40,351.50 L371.90,340.80 L373.50,331.50 L375.00,322.30 L376.20,318.50 L377.60,320.80 L379.60,324.60 L381.20,330.00 L382.70,337.70 L384.20,348.50 L385.50,358.50 L386.80,370.00 L387.90,375.40 L390.80,394.60 L393.70,415.80 L396.20,433.10 L397.20,441.00 L398.50,450.00 L400.20,460.00 L401.50,467.70 L404.60,480.00 L407.70,489.20 L411.50,496.90 L415.40,501.79 L420.00,505.18 L426.20,506.71 L435.00,507.04 L513.75,507.04 L513.75,507.40 Z" fill="#cfe4ec"/><g clip-path="url(#cb4)"><path d="M333.80,507.40 L333.80,506.93 L340.00,506.06 L346.90,503.87 L351.50,500.15 L355.30,493.80 L359.20,484.60 L362.20,470.80 L364.10,457.50 L365.50,446.50 L366.70,431.20 L368.70,413.80 L370.60,394.60 L372.50,375.40 L373.50,368.00 L374.20,356.20 L375.50,343.80 L376.50,333.10 L377.80,322.30 L378.80,316.20 L380.40,308.50 L381.90,301.50 L383.50,299.20 L384.70,301.50 L386.20,310.00 L388.10,320.80 L389.60,333.10 L391.20,345.40 L392.70,358.50 L394.20,372.00 L396.20,394.60 L398.50,417.70 L400.80,436.90 L402.70,450.40 L403.80,460.00 L404.90,467.70 L407.70,480.00 L410.80,489.20 L413.80,495.40 L417.70,501.03 L421.50,504.31 L426.20,506.38 L432.30,507.04 L513.75,507.15 L513.75,507.40 Z" fill="#c4c1ba"/><path d="M333.80,506.93 L340.00,506.06 L346.90,503.87 L351.50,500.15 L355.30,493.80 L359.20,484.60 L362.20,470.80 L364.10,457.50 L365.50,446.50 L366.70,431.20 L368.70,413.80 L370.60,394.60 L372.50,375.40 L373.50,368.00 L374.20,356.20 L375.50,343.80 L376.50,333.10 L377.80,322.30 L378.80,316.20 L380.40,308.50 L381.90,301.50 L383.50,299.20 L384.70,301.50 L386.20,310.00 L388.10,320.80 L389.60,333.10 L391.20,345.40 L392.70,358.50 L394.20,372.00 L396.20,394.60 L398.50,417.70 L400.80,436.90 L402.70,450.40 L403.80,460.00 L404.90,467.70 L407.70,480.00 L410.80,489.20 L413.80,495.40 L417.70,501.03 L421.50,504.31 L426.20,506.38 L432.30,507.04 L513.75,507.15" fill="none" stroke="#575d59" stroke-width="0.9" stroke-linejoin="round"/></g><g clip-path="url(#co4)"><path d="M333.80,506.93 L340.00,506.06 L346.90,503.87 L351.50,500.15 L355.30,493.80 L359.20,484.60 L362.20,470.80 L364.10,457.50 L365.50,446.50 L366.70,431.20 L368.70,413.80 L370.60,394.60 L372.50,375.40 L373.50,368.00 L374.20,356.20 L375.50,343.80 L376.50,333.10 L377.80,322.30 L378.80,316.20 L380.40,308.50 L381.90,301.50 L383.50,299.20 L384.70,301.50 L386.20,310.00 L388.10,320.80 L389.60,333.10 L391.20,345.40 L392.70,358.50 L394.20,372.00 L396.20,394.60 L398.50,417.70 L400.80,436.90 L402.70,450.40 L403.80,460.00 L404.90,467.70 L407.70,480.00 L410.80,489.20 L413.80,495.40 L417.70,501.03 L421.50,504.31 L426.20,506.38 L432.30,507.04 L513.75,507.15" fill="none" stroke="#3c1212" stroke-width="1.2" stroke-linejoin="round"/></g><path d="M291.00,507.25 L295.00,507.15 L300.00,507.15 L307.70,507.04 L315.40,506.71 L323.10,506.93 L330.80,506.28 L336.90,505.18 L342.20,502.67 L346.10,499.27 L349.20,493.80 L352.20,484.60 L355.30,470.80 L356.90,460.00 L358.80,444.60 L361.00,425.40 L363.80,402.30 L366.70,379.20 L367.60,370.00 L368.80,360.80 L370.40,351.50 L371.90,340.80 L373.50,331.50 L375.00,322.30 L376.20,318.50 L377.60,320.80 L379.60,324.60 L381.20,330.00 L382.70,337.70 L384.20,348.50 L385.50,358.50 L386.80,370.00 L387.90,375.40 L390.80,394.60 L393.70,415.80 L396.20,433.10 L397.20,441.00 L398.50,450.00 L400.20,460.00 L401.50,467.70 L404.60,480.00 L407.70,489.20 L411.50,496.90 L415.40,501.79 L420.00,505.18 L426.20,506.71 L435.00,507.04 L513.75,507.04" fill="none" stroke="#3a898c" stroke-width="1.05" stroke-linejoin="round"/></g>
<rect x="295.10" y="287.00" width="222.30" height="220.40" fill="none" stroke="#454545" stroke-width="1.2"/>
<path d="M295.10,507.40 h-3.9 M295.10,495.02 h-1.8 M295.10,483.24 h-1.8 M295.10,471.46 h-1.8 M295.10,459.68 h-1.8 M295.10,447.90 h-3.9 M295.10,436.12 h-1.8 M295.10,424.34 h-1.8 M295.10,412.56 h-1.8 M295.10,400.78 h-1.8 M295.10,389.00 h-3.9 M295.10,377.22 h-1.8 M295.10,365.44 h-1.8 M295.10,353.66 h-1.8 M295.10,341.88 h-1.8 M295.10,330.10 h-3.9 M295.10,318.32 h-1.8 M295.10,306.54 h-1.8 M295.10,294.76 h-1.8 M324.60,507.40 v3.5 M394.70,507.40 v3.5 M446.90,507.40 v3.5 M496.70,507.40 v3.5 M307.72,507.40 v1.7 M341.48,507.40 v1.7 M354.27,507.40 v1.7 M363.58,507.40 v1.7 M370.71,507.40 v1.7 M376.42,507.40 v1.7 M381.17,507.40 v1.7 M385.22,507.40 v1.7 M388.76,507.40 v1.7 M391.89,507.40 v1.7 M410.41,507.40 v1.7 M419.61,507.40 v1.7 M426.13,507.40 v1.7 M431.19,507.40 v1.7 M435.32,507.40 v1.7 M438.81,507.40 v1.7 M441.84,507.40 v1.7 M444.51,507.40 v1.7 M461.89,507.40 v1.7 M470.66,507.40 v1.7 M476.88,507.40 v1.7 M481.71,507.40 v1.7 M485.65,507.40 v1.7 M488.99,507.40 v1.7 M491.87,507.40 v1.7 M494.42,507.40 v1.7 M511.69,507.40 v1.7" stroke="#454545" stroke-width="1" fill="none"/>
<text x="288.30" y="509.85" text-anchor="end" class="t">0</text>
<text x="288.30" y="452.40" text-anchor="end" class="t">100</text>
<text x="288.30" y="393.50" text-anchor="end" class="t">200</text>
<text x="288.30" y="334.60" text-anchor="end" class="t">300</text>
<text x="324.80" y="524.50" text-anchor="middle" class="t">0</text>
<text x="386.70" y="524.50" class="t">10<tspan dy="-4.1" dx="-0.35" font-size="8.0">3</tspan></text>
<text x="440.00" y="524.50" class="t">10<tspan dy="-4.1" dx="-0.35" font-size="8.0">4</tspan></text>
<text x="488.60" y="524.50" class="t">10<tspan dy="-4.1" dx="-0.35" font-size="8.0">5</tspan></text>
<text x="404.90" y="279.30" text-anchor="middle" class="ti">LU-5250</text>
<rect x="432.5" y="181.5" width="13" height="13" fill="#cfe4ec" stroke="#45908f" stroke-width="1"/>
<rect x="432.5" y="200.5" width="13" height="13" fill="#d69290" stroke="#84403f" stroke-width="1"/>
<text x="451.5" y="192.2" class="lg">ISO-PE</text>
<text x="451.5" y="211.3" class="lg">DLL3-PE</text>
</svg>
</body></html>
